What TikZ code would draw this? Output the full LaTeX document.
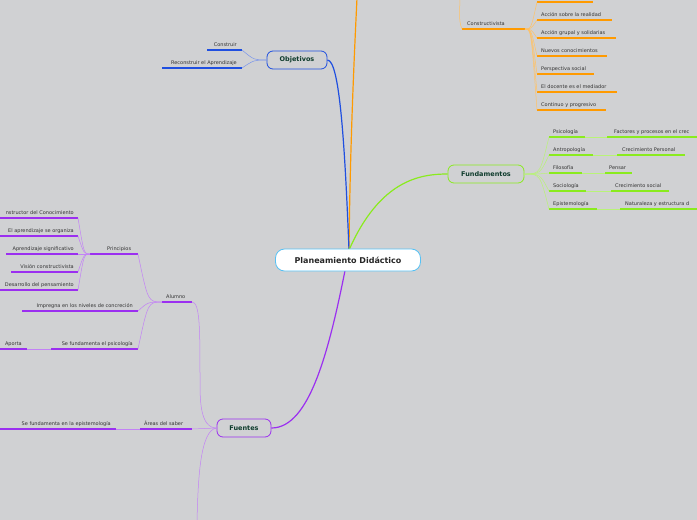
\documentclass[tikz,border=0pt]{standalone}
\usepackage{fontspec}
\setmainfont{DejaVu Sans}
\definecolor{bg}{HTML}{D0D1D3}
\definecolor{cor}{HTML}{FF9A00}
\definecolor{cbl}{HTML}{1F4FE0}
\definecolor{cgr}{HTML}{8AEB1E}
\definecolor{cpu}{HTML}{9B2FF0}
\definecolor{ctx}{HTML}{0E3B2C}
\tikzset{
 lt/.style={font=\fontsize{5}{5.5}\selectfont, text=black!80, inner sep=0pt},
 ul/.style={line width=1.1pt},
 cn/.style={line width=0.5pt},
 topic/.style={draw, rounded corners=6pt, fill=bg, line width=0.8pt, font=\fontsize{6.5}{7}\bfseries\selectfont, text=ctx, minimum height=18pt},
}
% \lf{name}{x1}{x2}{y}{text}{color}{textx}
\newcommand\lf[7]{%
 \draw[ul,#6] (#2,#4) coordinate (#1-l) -- (#3,#4) coordinate (#1-r);
 \node[lt,anchor=base west] (#1) at (#7,#4-4) {#5};}
\newcommand\lfr[7]{%
 \draw[ul,#6] (#2,#4) coordinate (#1-l) -- (#3,#4) coordinate (#1-r);
 \node[lt,anchor=base east] (#1) at (#7,#4-4) {#5};}
\begin{document}
\begin{tikzpicture}[x=1pt,y=-1pt]
\fill[bg] (0,0) rectangle (697,520);
\useasboundingbox (0,0) rectangle (697,520);
\clip (0,0) rectangle (697,520);
% main branches
\coordinate (top) at (357,-2);
\coordinate (bot) at (197,522);
\node[topic, draw=cbl, minimum width=60pt] (obj) at (297,60) {Objetivos};
\node[topic, draw=cgr, minimum width=76pt] (fun) at (486,174) {Fundamentos};
\node[topic, draw=cpu, minimum width=54pt] (fue) at (244,428) {Fuentes};
\draw[cor, line width=1.2pt] (349,250) .. controls (350,150) and (354,60) .. (top);
\draw[cbl, line width=1.2pt] (349,250) .. controls (345,150) and (340,60) .. (obj.east);
\draw[cgr, line width=1.2pt] (349,250) .. controls (380,180) and (420,174) .. (fun.west);
\draw[cpu, line width=1.2pt] (349,250) .. controls (330,350) and (310,428) .. (fue.east);
\node[topic, draw=cbl!50!cyan!70!white, font=\fontsize{8}{9}\bfseries\selectfont, text=black!85, minimum width=145pt, minimum height=22pt, rounded corners=9pt, fill=white] (c) at (348,260) {Planeamiento Didáctico};
% orange
\lf{con}{462}{525}{29}{Constructivista}{cor}{467}
\draw[cn,cor!60] (con-l) .. controls (458,20) and (460,8) .. (460,-2);
\lf{o0}{537}{593}{2}{}{cor}{541}
\lf{o1}{537}{612}{20}{Acción sobre la realidad}{cor}{541}
\lf{o2}{537}{616}{38}{Acción grupal y solidarias}{cor}{541}
\lf{o3}{537}{607}{56}{Nuevos conocimientos}{cor}{541}
\lf{o4}{537}{594}{74}{Perspectiva social}{cor}{541}
\lf{o5}{537}{617}{92}{El docente es el mediador}{cor}{541}
\lf{o6}{537}{606}{110}{Continuo y progresivo}{cor}{541}
\foreach \n in {o0,o1,o2,o3,o4,o5,o6}
 \draw[cn,cor!60] (con-r) .. controls (531,29) and (531,29) .. (\n-l);
% blue
\lfr{b1}{207}{242}{50}{Construir}{cbl}{237}
\lfr{b2}{162}{242}{68}{Reconstruir el Aprendizaje}{cbl}{237}
\foreach \n in {b1,b2} \draw[cn,cbl!60] (obj.west) .. controls (254,60) and (254,60) .. (\n-r);
% green
\lf{g1}{549}{585}{137}{Psicología}{cgr}{553}
\lf{g2}{549}{593}{155}{Antropología}{cgr}{553}
\lf{g3}{549}{582}{173}{Filosofía}{cgr}{553}
\lf{g4}{549}{586}{191}{Sociología}{cgr}{553}
\lf{g5}{549}{597}{209}{Epistemología}{cgr}{553}
\foreach \n in {g1,g2,g3,g4,g5} \draw[cn,cgr!60] (fun.east) .. controls (540,174) and (540,174) .. (\n-l);
\lf{h1}{607}{700}{137}{Factores y procesos en el crec}{cgr}{614}
\lf{h2}{617}{685}{155}{Crecimiento Personal}{cgr}{622}
\lf{h3}{605}{632}{173}{Pensar}{cgr}{609}
\lf{h4}{611}{669}{191}{Crecimiento social}{cgr}{615}
\lf{h5}{620}{700}{209}{Naturaleza y estructura d}{cgr}{625}
\foreach \i in {1,...,5} \draw[cn,cgr!60] (g\i-r) -- (h\i-l);
% purple
\lf{alu}{162}{192}{302}{Alumno}{cpu}{166}
\lf{are}{140}{192}{429}{Áreas del saber}{cpu}{144}
\draw[cn,cpu!60] (fue.west) .. controls (200,428) and (200,400) .. (200,380) .. controls (200,330) and (200,302) .. (alu-r);
\draw[cn,cpu!60] (fue.west) -- (are-r);
\draw[cn,cpu!60] (fue.west) .. controls (200,430) and (198,480) .. (bot);
\lfr{epi}{0}{116}{429}{Se fundamenta en la epistemología}{cpu}{111}
\draw[cn,cpu!60] (are-l) -- (epi-r);
\lf{pri}{90}{138}{254}{Principios}{cpu}{107}
\lfr{imp}{22}{138}{311}{Impregna en los niveles de concreción}{cpu}{133}
\lfr{sfp}{51}{138}{349}{Se fundamenta el psicología}{cpu}{133}
\foreach \n in {pri,imp,sfp} \draw[cn,cpu!60] (alu-l) .. controls (148,302) and (148,302) .. (\n-r);
\lfr{apo}{0}{27}{349}{Aporta}{cpu}{22}
\draw[cn,cpu!60] (sfp-l) -- (apo-r);
\lfr{p1}{0}{78}{218}{nstructor del Conocimiento}{cpu}{74}
\lfr{p2}{0}{78}{236}{El aprendizaje se organiza}{cpu}{74}
\lfr{p3}{6}{78}{254}{Aprendizaje significativo}{cpu}{74}
\lfr{p4}{11}{78}{272}{Visión constructivista}{cpu}{74}
\lfr{p5}{0}{78}{290}{Desarrollo del pensamiento}{cpu}{74}
\foreach \n in {p1,p2,p3,p4,p5} \draw[cn,cpu!60] (pri-l) .. controls (84,254) and (84,254) .. (\n-r);
\end{tikzpicture}
\end{document}
